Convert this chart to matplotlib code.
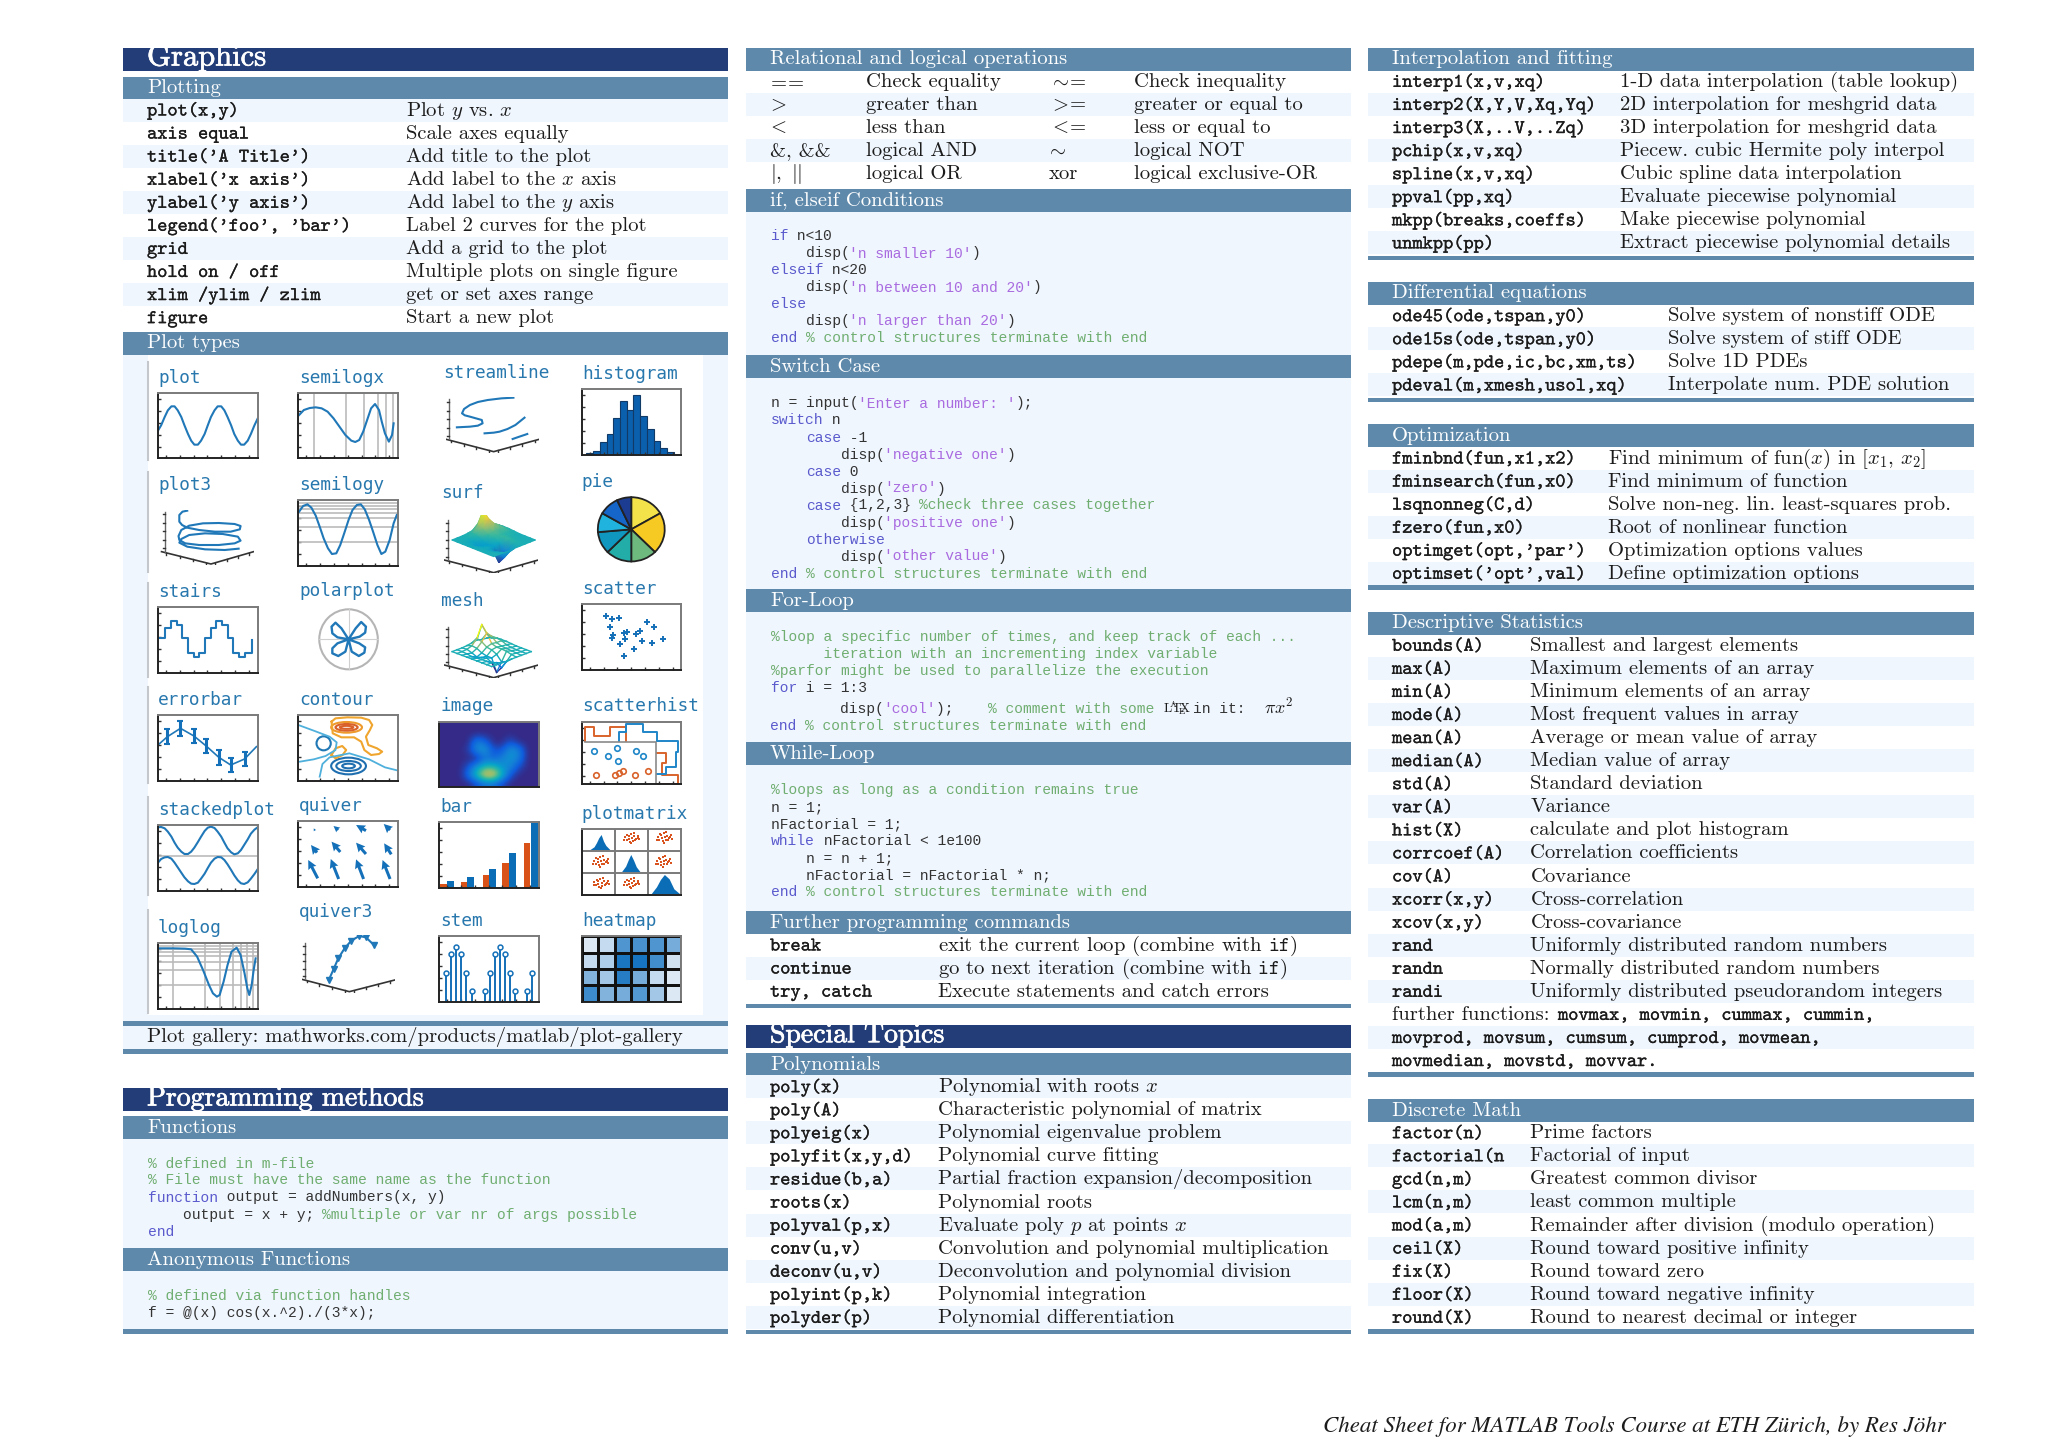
import re
import numpy as np
import matplotlib
matplotlib.use('Agg')
import matplotlib.pyplot as plt
import matplotlib.patheffects as pe
from matplotlib.colors import LinearSegmentedColormap
from matplotlib.patches import Ellipse, Rectangle

plt.rcParams['mathtext.fontset'] = 'cm'
plt.rcParams['mathtext.default'] = 'rm'

# ---- text tables
plotting_rows = [
    ("plot(x,y)", "Plot $\\mathit{y}$ vs. $\\mathit{x}$"), ("axis equal", "Scale axes equally"),
    ("title('A Title')", "Add title to the plot"), ("xlabel('x axis')", "Add label to the $\\mathit{x}$ axis"),
    ("ylabel('y axis')", "Add label to the $\\mathit{y}$ axis"), ("legend('foo', 'bar')", "Label 2 curves for the plot"),
    ("grid", "Add a grid to the plot"), ("hold on / off", "Multiple plots on single figure"),
    ("xlim /ylim / zlim", "get or set axes range"), ("figure", "Start a new plot"),
]
relational_rows = [
    ("$\\!=\\!\\!=$", "Check equality", "$\\sim\\!\\!=$", "Check inequality"),
    ("$\\!>$", "greater than", "$>\\!\\!=$", "greater or equal to"),
    ("$\\!<$", "less than", "$<\\!\\!=$", "less or equal to"),
    ("&, &&", "logical AND", "$\\!\\sim$", "logical NOT"),
    ("$|,\\ ||$", "logical OR", "xor", "logical exclusive-OR"),
]
further_rows = [
    ("break", "exit the current loop (combine with $\\mathtt{if}$)"),
    ("continue", "go to next iteration (combine with $\\mathtt{if}$)"),
    ("try, catch", "Execute statements and catch errors"),
]
poly_rows = [
    ("poly(x)", "Polynomial with roots $\\mathit{x}$"), ("poly(A)", "Characteristic polynomial of matrix"),
    ("polyeig(x)", "Polynomial eigenvalue problem"), ("polyfit(x,y,d)", "Polynomial curve fitting"),
    ("residue(b,a)", "Partial fraction expansion/decomposition"), ("roots(x)", "Polynomial roots"),
    ("polyval(p,x)", "Evaluate poly $\\mathit{p}$ at points $\\mathit{x}$"), ("conv(u,v)", "Convolution and polynomial multiplication"),
    ("deconv(u,v)", "Deconvolution and polynomial division"), ("polyint(p,k)", "Polynomial integration"),
    ("polyder(p)", "Polynomial differentiation"),
]
interp_rows = [
    ("interp1(x,v,xq)", "1-D data interpolation (table lookup)"), ("interp2(X,Y,V,Xq,Yq)", "2D interpolation for meshgrid data"),
    ("interp3(X,..V,..Zq)", "3D interpolation for meshgrid data"), ("pchip(x,v,xq)", "Piecew. cubic Hermite poly interpol"),
    ("spline(x,v,xq)", "Cubic spline data interpolation"), ("ppval(pp,xq)", "Evaluate piecewise polynomial"),
    ("mkpp(breaks,coeffs)", "Make piecewise polynomial"), ("unmkpp(pp)", "Extract piecewise polynomial details"),
]
ode_rows = [
    ("ode45(ode,tspan,y0)", "Solve system of nonstiff ODE"), ("ode15s(ode,tspan,y0)", "Solve system of stiff ODE"),
    ("pdepe(m,pde,ic,bc,xm,ts)", "Solve 1D PDEs"), ("pdeval(m,xmesh,usol,xq)", "Interpolate num. PDE solution"),
]
optim_rows = [
    ("fminbnd(fun,x1,x2)", "Find minimum of fun$(\\mathit{x})$ in $[\\mathit{x}_1,\\,\\mathit{x}_2]$"), ("fminsearch(fun,x0)", "Find minimum of function"),
    ("lsqnonneg(C,d)", "Solve non-neg. lin. least-squares prob."), ("fzero(fun,x0)", "Root of nonlinear function"),
    ("optimget(opt,'par')", "Optimization options values"), ("optimset('opt',val)", "Define optimization options"),
]
stats_rows = [
    ("bounds(A)", "Smallest and largest elements"), ("max(A)", "Maximum elements of an array"),
    ("min(A)", "Minimum elements of an array"), ("mode(A)", "Most frequent values in array"),
    ("mean(A)", "Average or mean value of array"), ("median(A)", "Median value of array"),
    ("std(A)", "Standard deviation"), ("var(A)", "Variance"), ("hist(X)", "calculate and plot histogram"),
    ("corrcoef(A)", "Correlation coefficients"), ("cov(A)", "Covariance"), ("xcorr(x,y)", "Cross-correlation"),
    ("xcov(x,y)", "Cross-covariance"), ("rand", "Uniformly distributed random numbers"),
    ("randn", "Normally distributed random numbers"), ("randi", "Uniformly distributed pseudorandom integers"),
]
stats_more = ["movmax, movmin, cummax, cummin,", "movprod, movsum, cumsum, cumprod, movmean,", "movmedian, movstd, movvar."]
discrete_rows = [
    ("factor(n)", "Prime factors"), ("factorial(n", "Factorial of input"), ("gcd(n,m)", "Greatest common divisor"),
    ("lcm(n,m)", "least common multiple"), ("mod(a,m)", "Remainder after division (modulo operation)"),
    ("ceil(X)", "Round toward positive infinity"), ("fix(X)", "Round toward zero"),
    ("floor(X)", "Round toward negative infinity"), ("round(X)", "Round to nearest decimal or integer"),
]

# ---- code listings
code_functions = ["% defined in m-file", "% File must have the same name as the function", "function output = addNumbers(x, y)",
                  "    output = x + y; %multiple or var nr of args possible", "end"]
code_anon = ["% defined via function handles", "f = @(x) cos(x.^2)./(3*x);"]
code_if = ["if n<10", "    disp('n smaller 10')", "elseif n<20", "    disp('n between 10 and 20')", "else",
           "    disp('n larger than 20')", "end % control structures terminate with end"]
code_switch = ["n = input('Enter a number: ');", "switch n", "    case -1", "        disp('negative one')", "    case 0",
               "        disp('zero')", "    case {1,2,3} %check three cases together", "        disp('positive one')",
               "    otherwise", "        disp('other value')", "end % control structures terminate with end"]
code_for = ["%loop a specific number of times, and keep track of each ...", "      iteration with an incrementing index variable",
            "%parfor might be used to parallelize the execution", "for i = 1:3"]
code_for_cool = "        disp('cool');    % comment with some "
code_for_end = "end % control structures terminate with end"
code_while = ["%loops as long as a condition remains true", "n = 1;", "nFactorial = 1;", "while nFactorial < 1e100",
              "    n = n + 1;", "    nFactorial = nFactorial * n;", "end % control structures terminate with end"]

# ---- gallery data (u across, v down)
wave_u = [96, 104, 113, 121, 130, 138, 146, 155, 163, 172, 180, 188, 197, 205, 214, 222, 230, 239, 247, 256, 264, 272, 281, 289, 298, 306, 314, 323, 331, 340, 348]
plot_v = [242, 226, 201, 181, 169, 169, 181, 201, 226, 252, 272, 284, 284, 272, 252, 226, 201, 181, 169, 169, 181, 201, 226, 252, 272, 284, 284, 272, 252, 226, 206]
stack_top_v = [442, 441, 445, 455, 470, 488, 503, 515, 522, 522, 515, 503, 486, 470, 453, 443, 440, 444, 455, 470, 488, 505, 517, 523, 520, 510, 495, 478, 461, 449, 442]
stack_low_v = [548, 537, 532, 531, 536, 548, 562, 578, 592, 604, 611, 612, 608, 596, 581, 564, 548, 536, 531, 532, 540, 553, 570, 586, 601, 610, 612, 607, 596, 582, 568]
semilogx_u = [453, 465, 480, 495, 510, 525, 540, 555, 570, 585, 595, 605, 615, 625, 635, 645, 655, 662, 670, 680, 688, 692]
semilogx_v = [195, 180, 174, 172, 175, 185, 205, 230, 255, 272, 276, 270, 245, 210, 175, 162, 180, 215, 250, 275, 255, 220]
semilogx_grid = [490, 571, 618, 653, 672, 690]
semilogy_u = [453, 463, 474, 484, 495, 505, 515, 526, 536, 547, 557, 567, 578, 588, 599, 609, 619, 630, 640, 651, 661, 671, 682, 692, 700]
semilogy_v = [485, 468, 463, 473, 497, 530, 565, 595, 612, 610, 585, 550, 510, 480, 465, 463, 478, 510, 545, 585, 612, 605, 570, 520, 495]
semilogy_grid = [460, 468, 478, 490, 503, 530, 575]
loglog_u = [100, 135, 165, 180, 195, 210, 225, 235, 245, 252, 262, 272, 282, 295, 305, 315, 322, 327, 333, 338, 343]
loglog_v = [805, 805, 806, 808, 830, 870, 915, 940, 950, 945, 905, 855, 815, 803, 825, 880, 925, 945, 915, 870, 835]
loglog_xgrid = [135, 215, 252, 285, 305, 322, 336]
loglog_ygrid = [798, 806, 816, 828, 845, 870, 915]
hist_u = [1188, 1205, 1222, 1239, 1256, 1273, 1290, 1307, 1324, 1341, 1358, 1375, 1392]
hist_v = [310, 302, 276, 253, 205, 154, 179, 134, 197, 238, 272, 294, 305]
stairs_u = [100, 114, 129, 143, 158, 172, 186, 201, 215, 230, 244, 258, 273, 287, 302, 316, 335]
stairs_v = [865, 835, 812, 826, 865, 908, 922, 908, 865, 835, 812, 826, 865, 908, 922, 908, 870]
err_u = [120, 153, 187, 218, 250, 280, 315]
err_v = [170, 145, 168, 198, 232, 255, 237]
err_line_u = [96, 120, 153, 187, 218, 250, 280, 315, 345]
err_line_v = [195, 170, 145, 168, 198, 232, 255, 237, 200]
scatter_u = [1228, 1245, 1262, 1240, 1333, 1350, 1248, 1245, 1275, 1283, 1315, 1305, 1278, 1320, 1346, 1372, 1265, 1300, 1274]
scatter_v = [798, 808, 803, 832, 817, 832, 855, 865, 848, 845, 843, 853, 868, 872, 879, 868, 883, 898, 918]
pie_sizes = [60, 75, 45, 45, 40, 35, 35, 25]
pie_colors = ['#F3E24A', '#F6CA22', '#6DB97E', '#22ADA8', '#0F97C0', '#1FB3DE', '#1566C8', '#1C3C92']
stem_u = [825, 838, 851, 863, 876, 889, 923, 935, 948, 961, 974, 986, 998, 1029, 1041]
stem_v = [878, 822, 802, 822, 878, 932, 932, 878, 822, 802, 822, 878, 932, 932, 878]
bar_orange_u = [818, 870, 925, 975, 1030]
bar_orange_v = [612, 606, 586, 550, 490]
bar_blue_u = [836, 886, 941, 992, 1048]
bar_blue_v = [602, 591, 567, 520, 428]
heat_values = [[.1, .2, .72, .75, .72, .55], [.2, .3, .95, .97, .78, .15], [.5, .35, .9, .55, .2, .1], [.8, .5, .55, .7, .35, .1]]
image_values = [
    [0, 0, 0, 0, 0, 0, 0, 0, 0, 0, 0, 0],
    [0, 0, 0, 0, 0, 0, 0, 0, 0, 0, 0, 0],
    [0, 0, 0, 0, .25, .15, 0, 0, .1, 0, 0, 0],
    [0, 0, 0, .05, .3, .35, .1, .12, .32, .25, 0, 0],
    [0, 0, 0, 0, 0, .2, .15, .25, .32, .25, 0, 0],
    [0, 0, 0, .1, .3, .45, .45, .3, .28, .1, 0, 0],
    [0, 0, 0, .2, .5, .85, .85, .45, .12, 0, 0, 0],
    [0, 0, 0, 0, .1, .2, .2, .08, 0, 0, 0, 0],
]
surf_z = [
    [0, 1, 2, 2, 1, 0, 0, 0, 0],
    [1, 6, 10, 8, 3, 1, 0, 0, 0],
    [2, 20, 18, 8, 4, 3, 2, 1, 0],
    [5, 45, 30, 10, 6, 6, 5, 2, 0],
    [3, 18, 14, 6, 4, -2, -15, -10, 0],
    [1, 5, 3, -3, -6, -6, -35, -20, -1],
    [0, 1, -3, -8, -5, -2, -8, -4, 0],
    [0, 0, -1, -3, -2, -1, -1, 0, 0],
    [0, 0, 0, 0, 0, 0, 0, 0, 0],
]
stream_curves = [
    ([995, 965, 930, 905, 885, 870, 865, 872, 885, 915, 917, 905, 885, 852], [143, 145, 150, 156, 165, 177, 190, 196, 200, 210, 220, 227, 230, 232]),
    ([922, 945, 960, 980, 1000, 1023], [250, 248, 245, 237, 225, 203]),
    ([993, 1010, 1030], [267, 260, 252]),
]
helix_u = [170, 158, 150, 150, 157, 170, 200, 240, 280, 303, 305, 290, 250, 210, 175, 155, 148, 150, 165, 200, 250, 290, 305, 298, 260, 215, 175, 155, 150, 170, 215, 265, 300]
helix_v = [482, 485, 495, 515, 525, 533, 540, 545, 545, 538, 528, 522, 519, 520, 527, 540, 558, 570, 580, 585, 585, 580, 572, 560, 552, 550, 555, 567, 578, 590, 598, 600, 596]
polar_u = [578, 560, 545, 535, 537, 550, 578, 550, 537, 537, 552, 570, 578, 586, 604, 618, 620, 605, 578, 606, 620, 622, 610, 596, 578]
polar_v = [868, 835, 818, 830, 850, 862, 868, 880, 895, 910, 918, 905, 868, 905, 918, 908, 892, 880, 868, 860, 848, 830, 816, 835, 868]
quiver_head_u = [490, 540, 597, 667, 483, 535, 597, 668, 476, 533, 597, 664]
quiver_head_v = [445, 438, 435, 432, 495, 485, 488, 490, 540, 537, 538, 540]
quiver_tail_u = [493, 552, 622, 683, 498, 557, 622, 686, 500, 553, 616, 683]
quiver_tail_v = [452, 450, 452, 450, 518, 516, 522, 523, 595, 597, 597, 597]
quiver3_u = [528, 540, 552, 568, 585, 605, 622, 642]
quiver3_v = [900, 868, 835, 805, 782, 768, 772, 795]
contour_rings = [(573, 142, 78, 32, '#EE9A2C'), (573, 142, 56, 20, '#D9622B'), (573, 142, 34, 9, '#D9622B'),
                 (515, 190, 36, 42, '#1F77B4'), (578, 258, 88, 50, '#1F6FB0'), (578, 258, 62, 30, '#1F6FB0'), (578, 258, 32, 14, '#1F6FB0')]
contour_blob_u = [535, 545, 575, 610, 630, 638, 632, 622, 628, 650, 663, 655, 635, 618, 610, 592, 560, 538, 535]
contour_blob_v = [125, 115, 112, 113, 120, 135, 150, 170, 195, 205, 215, 222, 225, 210, 185, 172, 172, 160, 125]
contour_small_u = [535, 545, 562, 572, 563, 545, 535]
contour_small_v = [225, 205, 198, 210, 225, 235, 225]
contour_line1_u = [451, 490, 530, 548, 545, 520, 490, 455]
contour_line1_v = [135, 152, 170, 187, 210, 228, 238, 245]
contour_line2_u = [505, 512, 530, 580, 630, 670, 704]
contour_line2_v = [290, 252, 232, 220, 238, 262, 272]
hist_top1_u = [1176, 1176, 1198, 1198, 1240, 1240, 1280, 1280]
hist_top1_v = [183, 140, 140, 167, 167, 140, 140, 183]
hist_top2_u = [1262, 1262, 1280, 1280, 1322, 1322, 1357, 1357]
hist_top2_v = [183, 155, 155, 133, 133, 155, 155, 183]
hist_right1_u = [1357, 1412, 1412, 1405, 1405, 1380, 1380, 1357]
hist_right1_v = [183, 183, 215, 215, 260, 260, 283, 283]
hist_right2_u = [1357, 1380, 1380, 1370, 1370, 1412, 1412, 1357]
hist_right2_v = [218, 218, 250, 250, 285, 285, 312, 312]
sh_blue_u = [1200, 1257, 1235, 1260, 1305, 1323]
sh_blue_v = [213, 203, 228, 243, 212, 228]
sh_orange_u = [1205, 1253, 1272, 1262, 1302, 1336]
sh_orange_v = [285, 285, 272, 280, 285, 272]
matrix_cells_u = [1295, 1378, 1217, 1375, 1218, 1295]
matrix_cells_v = [475, 473, 545, 545, 610, 610]
cloud_du = [-18, -12, -8, -3, 2, 6, 11, 16, -14, -6, 0, 8, 14, -2, 4, -9, 18, -20]
cloud_dv = [-3, -10, 2, -14, 8, -6, 2, -8, 6, 10, -2, 6, -1, 15, -16, -8, 3, 6]
matrix_hists = [
    ([1190, 1200, 1206, 1212, 1218, 1224, 1230, 1240], [510, 502, 490, 475, 465, 485, 498, 510]),
    ([1270, 1280, 1287, 1293, 1300, 1307, 1316], [576, 560, 540, 525, 542, 562, 576]),
    ([1345, 1358, 1368, 1378, 1390, 1402, 1416], [642, 622, 600, 585, 598, 628, 642]),
]
plot_labels = [
    ("plot", 96, 377.7), ("semilogx", 453, 377.7), ("streamline", 818, 372.7), ("histogram", 1168, 374),
    ("plot3", 96, 485), ("semilogy", 453, 485), ("surf", 813, 493), ("pie", 1168, 481.7),
    ("stairs", 96, 592), ("polarplot", 453, 591), ("mesh", 811, 600.7), ("scatter", 1168, 589),
    ("errorbar", 96, 700), ("contour", 453, 700), ("image", 810, 706), ("scatterhist", 1168, 706),
    ("stackedplot", 96, 810), ("quiver", 453, 805.7), ("bar", 810, 806.7), ("plotmatrix", 1168, 814),
    ("loglog", 96, 927.7), ("quiver3", 453, 912.3), ("stem", 810, 921), ("heatmap", 1168, 921),
]

# ---- page
W, H = 2048, 1448
NAVY = '#223D77'
STEEL = '#5E89AB'
PALE = '#F0F6FE'
INK = '#1C1C1C'
LINE = '#2078B8'
BODY = 14.9
TT = 14.0
PITCH = 8.72
USCALE = 2.529
parula = LinearSegmentedColormap.from_list('parula', ['#352A87', '#0F5CDD', '#1481D6', '#06A4CA', '#2EB7A4', '#87BF77', '#D1BB59', '#FEC832', '#F9FB0E'])

fig = plt.figure(figsize=(W / 100, H / 100), dpi=100, facecolor='white')
page = fig.add_axes([0, 0, 1, 1])
page.set_xlim(0, W)
page.set_ylim(H, 0)
page.axis('off')

col1, col2, col3 = (123, 728), (746, 1351), (1368, 1974)


def band(col, y0, y1, color):
    page.add_patch(Rectangle((col[0], y0), col[1] - col[0], y1 - y0, fc=color, ec='none'))


def header(col, y0, title, size=20):
    band(col, y0, y0 + 23.3, NAVY)
    page.text(col[0] + 24, y0 + 17.5, title, color='white', fontfamily='cmr10', fontsize=size,
              path_effects=[pe.withStroke(linewidth=0.5, foreground='white')])


def subheader(col, y0, title):
    band(col, y0, y0 + 23, STEEL)
    page.text(col[0] + 24, y0 + 16.5, title, color='white', fontfamily='cmr10', fontsize=BODY)


def tt(x, y, s):
    page.text(x, y, s, color=INK, fontfamily='cmtt10', fontsize=TT,
              path_effects=[pe.withStroke(linewidth=0.15, foreground=INK)])


def rm(x, y, s):
    page.text(x, y, s, color=INK, fontfamily='cmr10', fontsize=BODY)


def table(col, y_first, rows, desc_x, shade_first=False):
    for i, (cmd, desc) in enumerate(rows):
        yc = y_first + i * 23.07
        if (i % 2 == 0) == shade_first:
            band(col, yc - 11.5, yc + 11.5, PALE)
        tt(col[0] + 24, yc + 5.5, cmd)
        rm(desc_x, yc + 5.5, desc)


def code(x, y, text):
    if text.strip().startswith('iteration'):
        page.text(x, y, text, color='#6FAE70', fontfamily='Liberation Mono', fontsize=10.5)
        return
    tokens = r"'[^']*'|%.*|\b(?:if|elseif|else|end|switch|case|otherwise|for|while|function)\b|[^'%]"
    plain = ''
    start = 0
    for m in re.finditer(tokens, text):
        t = m.group(0)
        color = None
        if t[0] == "'":
            color = '#A96BE0'
        elif t[0] == '%':
            color = '#6FAE70'
        elif len(t) > 1:
            color = '#5A5ACD'
        if color is None:
            if not plain:
                start = m.start()
            plain += t
            continue
        if plain:
            page.text(x + start * PITCH, y, plain, color='#333333', fontfamily='Liberation Mono', fontsize=10.5)
            plain = ''
        page.text(x + m.start() * PITCH, y, t, color=color, fontfamily='Liberation Mono', fontsize=10.5)
    if plain:
        page.text(x + start * PITCH, y, plain, color='#333333', fontfamily='Liberation Mono', fontsize=10.5)


def listing(col, y_first, lines):
    for i, line in enumerate(lines):
        code(col[0] + 25, y_first + i * 17 + 4.5, line)


# column 1
header(col1, 48, "Graphics", size=22)
subheader(col1, 76.7, "Plotting")
table(col1, 110, plotting_rows, 405.5, shade_first=True)
subheader(col1, 332, "Plot types")
band(col1, 355, 1021, PALE)
page.add_patch(Rectangle((148, 355), 555, 660, fc='white', ec='none'))
for y0, y1 in [(362, 460), (472, 572), (583, 677), (687, 783), (797, 895), (910, 1013)]:
    page.plot([147.7, 147.7], [y0, y1], color='#C4C8CC', lw=1.5)
band(col1, 1021, 1025.7, STEEL)
band(col1, 1025.7, 1049, PALE)
rm(147, 1042, "Plot gallery: mathworks.com/products/matlab/plot-gallery")
band(col1, 1049, 1053.7, STEEL)
header(col1, 1088, "Programming methods")
subheader(col1, 1116.3, "Functions")
band(col1, 1139, 1248, PALE)
listing(col1, 1163, code_functions)
subheader(col1, 1248.3, "Anonymous Functions")
band(col1, 1271, 1329.3, PALE)
listing(col1, 1295.3, code_anon)
band(col1, 1329.3, 1334, STEEL)

# column 2
subheader(col2, 48, "Relational and logical operations")
for i, (a, b, c, d) in enumerate(relational_rows):
    yc = 81.7 + i * 23
    if i % 2 == 1:
        band(col2, yc - 11.5, yc + 11.5, PALE)
    rm(770, yc + 5.5, a)
    rm(866.5, yc + 5.5, b)
    rm(1049, yc + 5.5, c)
    rm(1134, yc + 5.5, d)
subheader(col2, 189, "if, elseif Conditions")
band(col2, 212, 355, PALE)
listing(col2, 236, code_if)
subheader(col2, 355, "Switch Case")
band(col2, 378, 589, PALE)
listing(col2, 403, code_switch)
subheader(col2, 589, "For-Loop")
band(col2, 612, 742, PALE)
listing(col2, 636.3, code_for)
code(770, 712.7, code_for_cool)
page.text(1163, 712.7, "$\\mathrm{L^{\\!\\!A}\\!\\!\\!T_{\\!\\!E}\\!\\!\\!X}$", color=INK, fontsize=9.5)
code(770 + 48.5 * PITCH, 712.7, "in it:")
page.text(1263.7, 712.7, "$\\pi\\mathit{x}^2$", color=INK, fontsize=13)
code(770, 729.7, code_for_end)
subheader(col2, 742.3, "While-Loop")
band(col2, 765, 911, PALE)
listing(col2, 789.7, code_while)
subheader(col2, 911, "Further programming commands")
table(col2, 945, further_rows, 937.7)
band(col2, 1003.7, 1008.3, STEEL)
header(col2, 1024.7, "Special Topics")
subheader(col2, 1053.3, "Polynomials")
table(col2, 1086.7, poly_rows, 937.7, shade_first=True)
band(col2, 1329.5, 1334.2, STEEL)

# column 3
subheader(col3, 48, "Interpolation and fitting")
table(col3, 81.4, interp_rows, 1620)
band(col3, 255.7, 260.4, STEEL)
subheader(col3, 282, "Differential equations")
table(col3, 315.7, ode_rows, 1668)
band(col3, 397.5, 402, STEEL)
subheader(col3, 424.3, "Optimization")
table(col3, 458, optim_rows, 1608.5)
band(col3, 585.4, 590, STEEL)
subheader(col3, 611.7, "Descriptive Statistics")
table(col3, 645.3, stats_rows, 1530.5)
for i, s in enumerate(stats_more):
    yc = 645.3 + (16 + i) * 23.07
    if i == 1:
        band(col3, yc - 11.5, yc + 11.5, PALE)
    if i == 0:
        rm(1392, yc + 5.5, "further functions:")
        tt(1558, yc + 5.5, s)
    else:
        tt(1392, yc + 5.5, s)
band(col3, 1072.3, 1077, STEEL)
subheader(col3, 1099.3, "Discrete Math")
table(col3, 1132.7, discrete_rows, 1530.5)
band(col3, 1329.3, 1334, STEEL)

page.text(1946, 1431.7, "Cheat Sheet for MATLAB Tools Course at ETH Zürich, by Res Jöhr", ha='right', color=INK,
          fontfamily='STIXGeneral', fontstyle='italic', fontsize=16.5)

for name, u, y in plot_labels:
    page.text(120 + u / USCALE, y, name, color='#2878AE', fontfamily='DejaVu Sans Mono', fontsize=12.8, va='center')


# ---- thumbnails
def thumb(off_y, u0, u1, v0, v1, frame=True):
    x0, x1 = 120 + u0 / USCALE, 120 + u1 / USCALE
    y0, y1 = off_y + v0 / 3, off_y + v1 / 3
    ax = fig.add_axes([x0 / W, 1 - y1 / H, (x1 - x0) / W, (y1 - y0) / H])
    ax.set_xlim(u0, u1)
    ax.set_ylim(v1, v0)
    if frame:
        ax.set_xticks(np.arange(u0 + 20, u1 - 8, 35))
        ax.set_yticks(np.arange(v0 + 18, v1 - 8, 36))
        ax.set_xticklabels([])
        ax.set_yticklabels([])
        ax.tick_params(direction='in', length=2.5, width=1, color='#333333')
        for side in ('top', 'right'):
            ax.spines[side].set_color('#7A7A7A')
        for side in ('left', 'bottom'):
            ax.spines[side].set_color('#222222')
        for s in ax.spines.values():
            s.set_linewidth(1.4)
    else:
        ax.axis('off')
    return ax


def floor3d(ax, left, mid, right, zu, ztop):
    ax.plot([left[0], mid[0], right[0]], [left[1], mid[1], right[1]], color='#333333', lw=1.2)
    ax.plot([zu, zu], [left[1], ztop], color='#666666', lw=1)
    for a, b in ((left, mid), (mid, right)):
        for t in np.linspace(0.1, 0.9, 4):
            tx = a[0] + t * (b[0] - a[0])
            ty = a[1] + t * (b[1] - a[1])
            ax.plot([tx, tx], [ty, ty + 5], color='#333333', lw=1)
    for zy in np.linspace(left[1] - 10, ztop + 8, 5):
        ax.plot([zu, zu - 5], [zy, zy], color='#333333', lw=1)


Z2 = 350
Z3 = 680

ax = thumb(Z2, 96, 348, 128, 325)
ax.plot(wave_u, plot_v, color=LINE, lw=1.5)

ax = thumb(Z2, 451, 704, 128, 325)
ax.vlines(semilogx_grid, 128, 325, color='#BBBBBB', lw=1.2)
ax.plot(semilogx_u, semilogx_v, color=LINE, lw=1.5)

ax = thumb(Z2, 825, 1060, 140, 310, frame=False)
floor3d(ax, (825, 268), (945, 305), (1060, 268), 833, 148)
for cu, cv in stream_curves:
    ax.plot(cu, cv, color=LINE, lw=1.5)

ax = thumb(Z2, 1168, 1419, 118, 316)
ax.bar(hist_u, np.array(hist_v) - 316, width=17, bottom=316, color='#0B60AE', edgecolor='#123A66', lw=0.8)

ax = thumb(Z2, 100, 340, 480, 645, frame=False)
floor3d(ax, (105, 605), (230, 642), (338, 605), 113, 485)
ax.plot(helix_u, helix_v, color=LINE, lw=1.5)

ax = thumb(Z2, 451, 704, 450, 648)
ax.hlines(semilogy_grid, 451, 704, color='#BBBBBB', lw=1.2)
ax.plot(semilogy_u, semilogy_v, color=LINE, lw=1.5)

ax = thumb(Z2, 820, 1058, 495, 670, frame=False)
floor3d(ax, (820, 630), (945, 668), (1058, 630), 830, 510)
zz = np.array(surf_z, dtype=float)
jj, ii = np.mgrid[0:9, 0:9]
ax.pcolormesh(945 + (ii - jj) * 13.25, 520 + (ii + jj) * 6.25 - zz * 1.4, zz, shading='gouraud', cmap=parula, vmin=-35, vmax=45)

ax = thumb(Z2, 1200, 1386, 432, 644, frame=False)
ax.pie(pie_sizes, colors=pie_colors, startangle=90, counterclock=False, radius=1.0,
       wedgeprops={'edgecolor': '#222222', 'linewidth': 1.3})
ax.set_xlim(-1.1, 1.1)
ax.set_ylim(-1.1, 1.1)
ax.set_aspect('auto')

ax = thumb(Z2, 96, 348, 771, 970)
ax.step(stairs_u, stairs_v, where='post', color=LINE, lw=1.5)

ax = thumb(Z2, 495, 662, 765, 968, frame=False)
ax.add_patch(Ellipse((578, 868), 148, 180, fc='none', ec='#B5B5B5', lw=1.5))
ax.plot([578, 578], [778, 958], color='#D0D0D0', lw=0.8)
ax.plot([504, 652], [868, 868], color='#D0D0D0', lw=0.8)
ax.plot(polar_u, polar_v, color=LINE, lw=1.7)

ax = thumb(Z2, 820, 1058, 815, 985, frame=False)
floor3d(ax, (820, 945), (945, 983), (1058, 945), 830, 830)
for j in range(9):
    zrow = zz[j]
    for k in range(8):
        ax.plot([940 + (k - j) * 12.5, 940 + (k + 1 - j) * 12.5], [860 + (k + j) * 5.6 - zrow[k] * 1.3, 860 + (k + 1 + j) * 5.6 - zrow[k + 1] * 1.3],
                color=parula((zrow[k] + 35) / 80), lw=1.0)
for i in range(9):
    zcol = zz[:, i]
    for k in range(8):
        ax.plot([940 + (i - k) * 12.5, 940 + (i - k - 1) * 12.5], [860 + (i + k) * 5.6 - zcol[k] * 1.3, 860 + (i + k + 1) * 5.6 - zcol[k + 1] * 1.3],
                color=parula((zcol[k] + 35) / 80), lw=1.0)

ax = thumb(Z2, 1168, 1419, 762, 960)
ax.plot(scatter_u, scatter_v, '+', color='#1470B8', ms=5, mew=1.4)

ax = thumb(Z3, 96, 348, 104, 302)
ax.plot(err_line_u, err_line_v, color=LINE, lw=1.2)
ax.errorbar(err_u, err_v, yerr=22, fmt='none', ecolor='#1470B8', elinewidth=2.2, capsize=2.5, capthick=1.5)

ax = thumb(Z3, 451, 704, 104, 302)
for cx, cy, w, h, c in contour_rings:
    ax.add_patch(Ellipse((cx, cy), w, h, fc='none', ec=c, lw=1.5))
ax.plot(contour_blob_u, contour_blob_v, color='#EFA52E', lw=1.5)
ax.plot(contour_small_u, contour_small_v, color='#EFA52E', lw=1.5)
ax.plot(contour_line1_u, contour_line1_v, color='#4FB0DC', lw=1.3)
ax.plot(contour_line2_u, contour_line2_v, color='#4FB0DC', lw=1.3)

ax = thumb(Z3, 807, 1060, 125, 322)
ax.imshow(image_values, extent=(807, 1060, 322, 125), cmap=parula, vmin=0, vmax=1, interpolation='bicubic', aspect='auto')
ax.set_xticks([])
ax.set_yticks([])

ax = thumb(Z3, 1168, 1419, 125, 312)
ax.plot(hist_top1_u, hist_top1_v, color='#D9622B', lw=1.4)
ax.plot(hist_right2_u, hist_right2_v, color='#D9622B', lw=1.4)
ax.plot(hist_top2_u, hist_top2_v, color='#1F86C8', lw=1.4)
ax.plot(hist_right1_u, hist_right1_v, color='#1F86C8', lw=1.4)
ax.plot([1176, 1355, 1355], [185, 185, 312], color='#8A8A8A', lw=1.2)
ax.plot(sh_blue_u, sh_blue_v, 'o', mfc='none', mec='#1F86C8', ms=4, mew=1.2)
ax.plot(sh_orange_u, sh_orange_v, 'o', mfc='none', mec='#D9622B', ms=4, mew=1.2)

ax = thumb(Z3, 96, 348, 436, 634)
ax.hlines(527, 96, 348, color='#BBBBBB', lw=1.2)
ax.plot(wave_u, stack_top_v, color=LINE, lw=1.5)
ax.plot(wave_u, stack_low_v, color=LINE, lw=1.5)

ax = thumb(Z3, 451, 704, 422, 620)
tail_u, tail_v = np.array(quiver_tail_u), np.array(quiver_tail_v)
ax.quiver(tail_u, tail_v, np.array(quiver_head_u) - tail_u, np.array(quiver_head_v) - tail_v, color='#1470B8',
          angles='xy', scale_units='xy', scale=1, width=0.03, headwidth=3, headlength=3, headaxislength=2.7, minlength=0)

ax = thumb(Z3, 807, 1060, 426, 624)
ax.bar(bar_orange_u, np.array(bar_orange_v) - 624, width=16, bottom=624, color='#D95319')
ax.bar(bar_blue_u, np.array(bar_blue_v) - 624, width=18, bottom=624, color='#0B6DB5')

ax = thumb(Z3, 1168, 1419, 447, 644)
for hu, hv in matrix_hists:
    ax.fill(hu, hv, color='#0B6DB5', lw=0)
for cu, cv in zip(matrix_cells_u, matrix_cells_v):
    ax.plot(cu + np.array(cloud_du), cv + np.array(cloud_dv), 's', color='#D9531E', ms=2.1, mew=0)
ax.vlines([1253, 1336], 447, 644, color='#7A7A7A', lw=1.4)
ax.hlines([513, 578], 1168, 1419, color='#7A7A7A', lw=1.4)
ax.set_xticks([])
ax.set_yticks([])

ax = thumb(Z3, 96, 348, 788, 986)
ax.vlines(loglog_xgrid, 788, 986, color='#BBBBBB', lw=1.2)
ax.hlines(loglog_ygrid, 96, 348, color='#BBBBBB', lw=1.2)
ax.plot(loglog_u, loglog_v, color=LINE, lw=1.5)

ax = thumb(Z3, 460, 695, 765, 938, frame=False)
floor3d(ax, (460, 898), (580, 935), (695, 900), 467, 790)
ax.plot(quiver3_u, quiver3_v, color=LINE, lw=1.5)
ax.plot(quiver3_u, quiver3_v, marker='v', ls='none', color=LINE, ms=4)

ax = thumb(Z3, 807, 1060, 769, 965)
ax.vlines(stem_u, stem_v, 965, color='#1470B8', lw=1.4)
ax.plot(stem_u, stem_v, 'o', mfc='white', mec='#1470B8', ms=3.5, mew=1.1)

ax = thumb(Z3, 1168, 1419, 769, 965)
heat_map = LinearSegmentedColormap.from_list('heat', ['#F2F6FB', '#1070BE'])
ax.pcolormesh(np.linspace(1168, 1419, 7), np.linspace(769, 965, 5), heat_values, cmap=heat_map, vmin=0, vmax=1,
              edgecolors='#111111', linewidth=0.9)
ax.set_xticks([])
ax.set_yticks([])

fig.savefig('out.png', dpi=100)
